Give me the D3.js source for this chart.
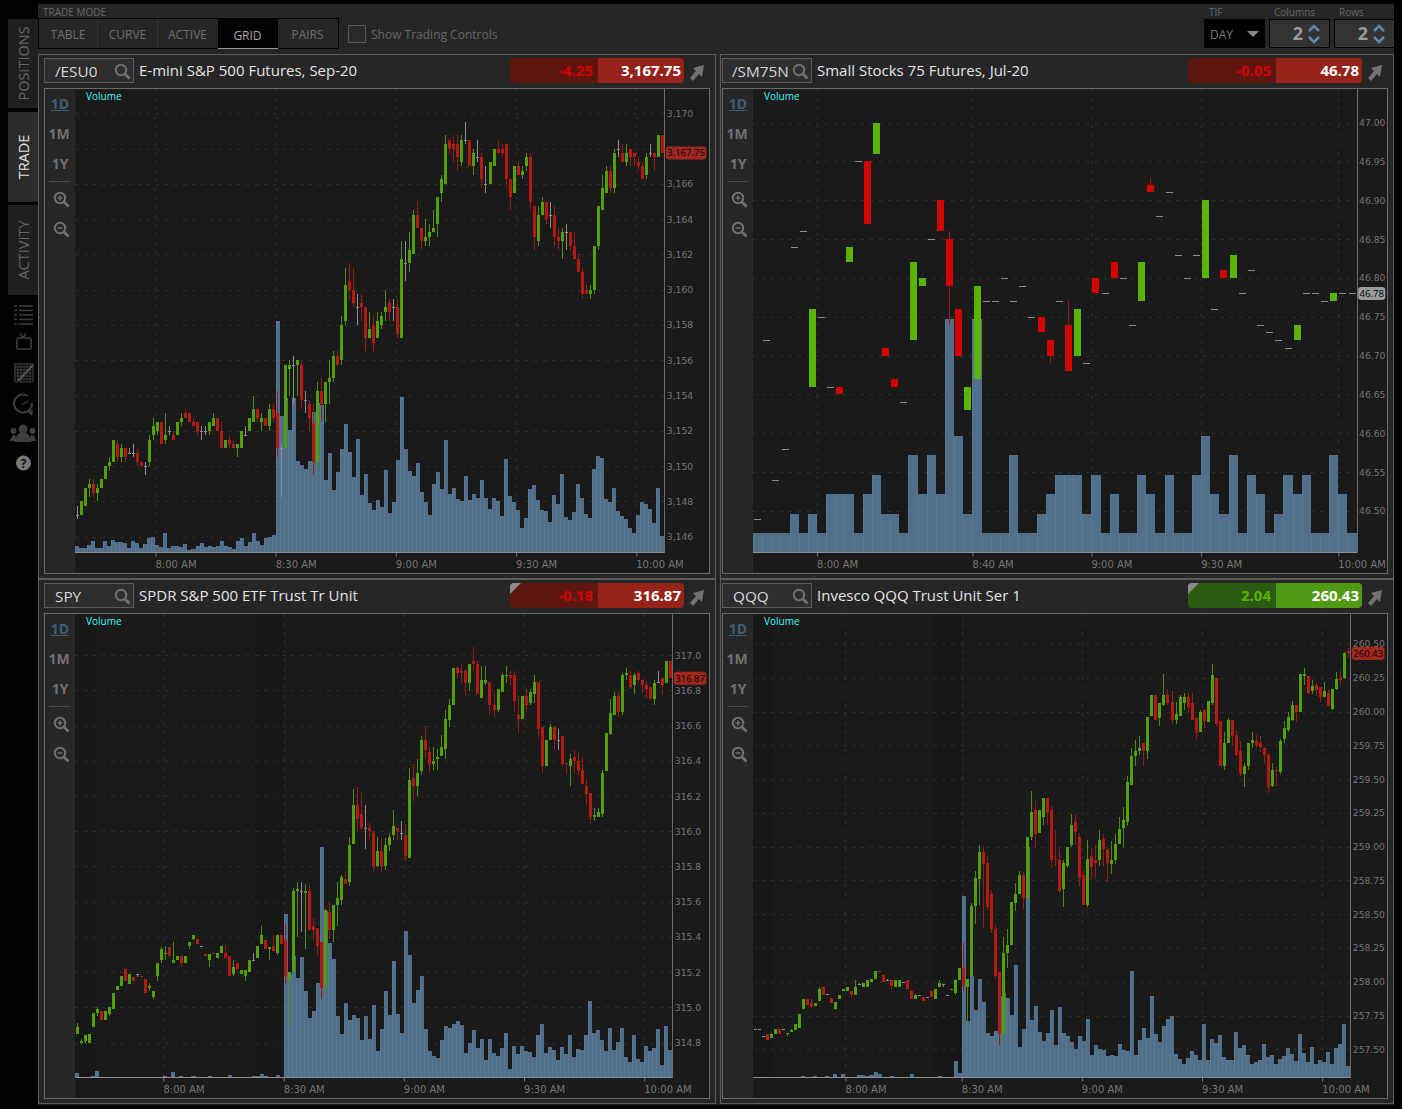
<!DOCTYPE html>
<html>
<head>
<meta charset="utf-8">
<script src="https://d3js.org/d3.v7.min.js"></script>
<style>
  html, body { margin: 0; padding: 0; background: #000; }
  svg { display: block; }
  text { font-family: "Open Sans", sans-serif; }
  .axis text { font-family: "DejaVu Sans", sans-serif; fill: #757575; }
  .axis path { display: none; }
</style>
</head>
<body>
<svg id="chart" width="1402" height="1109"></svg>
<script>
// time axis
var sessionLabels = ["8:00 AM", "8:30 AM", "9:00 AM", "9:30 AM", "10:00 AM"];
var smLabels = ["8:00 AM", "8:40 AM", "9:00 AM", "9:30 AM", "10:00 AM"];
var esuTickBars = [20, 50, 80, 110, 140];
var smTickBars = [7, 24, 37, 49, 64];
var spyTickBars = [22, 52, 82, 112, 142];
var qqqTickBars = [23, 52, 82, 112, 142];

// price axis ticks
var esuPriceTicks = [3146, 3148, 3150, 3152, 3154, 3156, 3158, 3160, 3162, 3164, 3166, 3168, 3170];
var smPriceTicks = [46.5, 46.55, 46.6, 46.65, 46.7, 46.75, 46.8, 46.85, 46.9, 46.95, 47];
var spyPriceTicks = [314.8, 315, 315.2, 315.4, 315.6, 315.8, 316, 316.2, 316.4, 316.6, 316.8, 317];
var qqqPriceTicks = [257.5, 257.75, 258, 258.25, 258.5, 258.75, 259, 259.25, 259.5, 259.75, 260, 260.25, 260.5];

// /ESU0 one minute bars
var esuOpen = [3147.25,3147.25,3147.75,3148.75,3149,3148.5,3148.75,3149.25,3150,3150.25,3151.25,3150.5,3151,3150.75,3150.75,3150.75,3150.25,3150,3150.25,3151.75,3152,3152.5,3151.5,3152,3151.75,3151.75,3152.5,3153,3153,3152.5,3152.5,3152,3152,3152,3152.25,3152.75,3152,3151,3151.5,3151.25,3151,3151,3151.75,3152,3152.5,3153.25,3152.5,3152.75,3152.25,3153.25,3153,3151,3151,3155.5,3155.75,3155.75,3155.75,3153.75,3153.5,3152.5,3150.25,3154.25,3153.5,3154.75,3155,3156.25,3156,3158.25,3160.5,3160,3159,3159.25,3159,3157.25,3158,3157.25,3158,3158.75,3159.25,3159,3159,3157.25,3161.5,3161.5,3162,3164.25,3163.5,3162.75,3163,3163.25,3163.75,3165.5,3166,3168.5,3168.25,3168.25,3167.25,3168.5,3168.5,3167,3167.5,3167.5,3166,3166,3167,3168,3168,3168.25,3166.25,3165.5,3167,3166.5,3167,3167.5,3164.75,3162.75,3164.25,3165,3164.25,3164.25,3163,3162.75,3163.25,3163.25,3162.5,3161.75,3161,3160,3159.75,3160,3162.5,3164.5,3165.5,3166.75,3165.75,3168,3167.75,3167.25,3168,3167.75,3167.25,3167,3166.5,3167.75,3167.75,3167.5,3168.75];
var esuHigh = [3147.75,3148,3148.75,3149.25,3149.25,3149,3149.25,3150,3150.5,3151.5,3151.5,3151.25,3151,3151,3151.25,3151,3150.25,3150.25,3151.75,3152.75,3152.5,3152.5,3153,3152.25,3152,3152.5,3153,3153.25,3153,3152.75,3152.5,3152.25,3152.25,3152.5,3153,3152.75,3152.5,3151.5,3151.75,3151.5,3151.25,3152,3152.25,3152.75,3154,3153.25,3153,3152.75,3153.5,3153.5,3154.25,3151.25,3155.75,3156,3156.25,3156,3156,3154.25,3153.75,3153.5,3154.75,3155,3154.75,3156,3156.5,3156.5,3158.5,3161.25,3161.5,3161.25,3159.75,3159.75,3159,3158.75,3158.5,3158.75,3158.75,3160,3159.5,3159.5,3159.5,3162.75,3162.75,3163.25,3164.5,3165,3163.5,3164,3163.75,3164.5,3165.25,3166.5,3168.75,3168.5,3168.75,3168.75,3168.75,3169.5,3168.5,3168,3168.5,3167.75,3167,3167.25,3168,3168.5,3168.25,3168.25,3166.25,3167,3167.25,3167,3167.75,3167.75,3164.75,3164.75,3165.25,3165,3165,3164.75,3163.5,3163.5,3163.75,3163.25,3163.25,3162,3161.25,3160.25,3160.25,3162.5,3164.75,3166.5,3167,3167,3168,3168.5,3168.25,3168.25,3168,3167.75,3167.5,3167.25,3167.75,3168.25,3167.75,3168.75,3168.75];
var esuLow = [3147,3147.25,3147.75,3148.25,3148.25,3148,3148.75,3149.25,3149.75,3150.25,3150.25,3150.25,3150.25,3150.75,3150.5,3150,3150,3149.5,3150,3151.5,3151.75,3151.25,3151.25,3151.75,3151.5,3151.75,3152.25,3152.75,3152.5,3152.25,3151.75,3151.5,3151.75,3151.75,3152.25,3152,3151,3151,3151,3151,3150.5,3151,3151.75,3152,3152.5,3152.5,3152,3152.25,3152,3152.5,3150.5,3148.25,3151,3154,3153.5,3154,3153.25,3153,3152,3149.5,3149.75,3152.5,3152.5,3153.5,3154.75,3155.75,3155.75,3158,3159.5,3159,3158,3158.25,3156.5,3157.25,3156.5,3157.25,3157.75,3158.25,3158.25,3158.25,3157.25,3157.25,3160.5,3161,3162,3163.5,3162.25,3162.5,3162.5,3163.25,3163,3165,3166,3167.75,3167.25,3166.75,3167,3168.25,3167,3166.5,3167.25,3165.75,3165.5,3166,3167,3167.75,3167.5,3165.75,3164.5,3165.5,3166.5,3166.25,3166.75,3164.5,3162.25,3162.5,3164.25,3163.75,3163.5,3162.5,3162.25,3161.75,3162.25,3162.25,3161.75,3161,3159.5,3159.75,3159.5,3159.75,3162.25,3164.5,3165.5,3165.5,3165.5,3167.5,3167.25,3167,3167,3167,3166.75,3166.25,3166.25,3167.5,3166.75,3167.5,3167.75];
var esuClose = [3147.25,3148,3148.75,3149,3148.5,3148.75,3149.25,3150,3150.25,3151.5,3150.5,3151,3150.5,3150.75,3150.75,3150.25,3150,3150,3151.5,3152.25,3152.5,3151.25,3151.75,3152,3151.5,3152.5,3152.75,3152.75,3152.5,3152.25,3152,3152,3152,3152.5,3152.75,3152,3151,3151.5,3151.25,3151,3151.25,3152,3151.75,3152.75,3153.25,3152.75,3152.75,3152.25,3153.25,3152.75,3151,3151,3155.75,3155.75,3155.75,3156,3153.75,3153.75,3152.75,3150.25,3154.25,3153.5,3154.75,3155,3156.25,3155.75,3158,3160.25,3160,3159.25,3159,3159,3157.25,3157.75,3157,3158.25,3158.5,3159,3158.75,3159,3157.5,3161.75,3161.5,3162.25,3164.25,3163.5,3162.75,3163,3163.25,3163.5,3165.25,3166.25,3168.25,3168,3168,3167.5,3168.5,3168.5,3167,3167.75,3167.5,3166.25,3166,3167.25,3168,3167.75,3167.75,3166.25,3165.25,3167,3166.5,3166.75,3167.5,3165,3163,3164.25,3165,3164,3164.25,3163,3162.75,3163.25,3163.25,3162.5,3161.75,3161,3159.75,3159.75,3160,3162.5,3164.75,3165.75,3166.75,3165.75,3167.75,3168,3167.25,3167.75,3167.5,3167.5,3167,3166.25,3167.5,3167.75,3167.5,3168.75,3167.75];
var esuVolume = [19,13,13,22,34,13,13,34,19,37,31,31,28,13,34,28,13,25,43,46,22,16,58,13,19,19,16,25,7,10,19,28,16,19,16,19,34,19,16,10,34,43,19,31,58,34,22,43,46,52,694,409,463,367,463,274,262,250,274,421,448,442,217,298,187,241,310,385,301,226,340,172,235,148,127,157,136,249,120,153,279,468,312,246,231,270,183,153,114,207,243,192,339,177,195,162,156,231,159,177,165,219,165,132,165,156,111,282,171,153,129,75,105,192,204,159,129,126,93,174,147,237,108,99,123,207,165,117,105,252,291,285,162,153,195,126,111,102,75,60,114,153,147,132,90,195,51];

// /SM75N bars, thin market so many flat prints
var smOpen = [46.49,46.72,46.54,46.58,46.84,46.86,46.66,46.75,46.66,46.66,46.82,46.95,46.95,46.96,46.71,46.67,46.64,46.72,46.79,46.85,46.90,46.85,46.76,46.63,46.67,46.77,46.77,46.80,46.77,46.79,46.75,46.75,46.72,46.77,46.74,46.70,46.69,46.80,46.78,46.82,46.80,46.74,46.77,46.92,46.88,46.91,46.83,46.80,46.83,46.80,46.76,46.81,46.80,46.78,46.81,46.74,46.73,46.72,46.71,46.72,46.78,46.78,46.77,46.77,46.78,46.78];
var smHigh = [46.49,46.72,46.54,46.58,46.84,46.86,46.76,46.75,46.66,46.66,46.84,46.95,46.95,47,46.71,46.67,46.64,46.82,46.80,46.85,46.90,46.86,46.76,46.66,46.79,46.77,46.77,46.80,46.77,46.79,46.75,46.75,46.72,46.77,46.77,46.76,46.69,46.80,46.78,46.82,46.80,46.74,46.82,46.93,46.88,46.91,46.83,46.80,46.83,46.90,46.76,46.81,46.83,46.78,46.81,46.74,46.73,46.72,46.71,46.74,46.78,46.78,46.77,46.78,46.78,46.78];
var smLow = [46.49,46.72,46.54,46.58,46.84,46.86,46.66,46.75,46.66,46.65,46.82,46.95,46.87,46.96,46.70,46.66,46.64,46.72,46.79,46.85,46.86,46.74,46.70,46.63,46.67,46.77,46.77,46.80,46.77,46.79,46.75,46.73,46.69,46.77,46.68,46.70,46.69,46.78,46.78,46.80,46.80,46.74,46.77,46.91,46.88,46.91,46.83,46.80,46.83,46.80,46.76,46.80,46.80,46.78,46.81,46.74,46.73,46.72,46.71,46.72,46.78,46.78,46.77,46.77,46.78,46.78];
var smClose = [46.49,46.72,46.54,46.58,46.84,46.86,46.76,46.75,46.66,46.65,46.84,46.95,46.87,47,46.70,46.66,46.64,46.82,46.80,46.85,46.86,46.79,46.70,46.66,46.79,46.77,46.77,46.80,46.77,46.79,46.75,46.73,46.70,46.77,46.68,46.76,46.69,46.78,46.78,46.80,46.80,46.74,46.82,46.91,46.88,46.91,46.83,46.80,46.83,46.90,46.76,46.80,46.83,46.78,46.81,46.74,46.73,46.72,46.71,46.74,46.78,46.78,46.77,46.78,46.78,46.78];
var smVolume = [1,1,1,1,2,1,2,1,3,3,3,1,3,4,2,2,1,5,3,5,3,12,6,2,12,1,1,1,5,1,1,2,3,4,4,4,2,4,1,3,1,1,4,3,1,4,1,1,4,6,3,2,5,1,4,3,1,2,4,3,4,1,1,5,3,1];

// SPY one minute bars
var spyOpen = [314.85,314.80,314.81,314.80,314.89,314.97,314.98,314.93,314.96,314.99,315.10,315.12,315.22,315.13,315.17,315.19,315.18,315.16,315.11,315.06,315.18,315.27,315.30,315.34,315.25,315.27,315.29,315.25,315.35,315.39,315.39,315.35,315.30,315.27,315.31,315.28,315.31,315.31,315.29,315.19,315.25,315.19,315.18,315.20,315.27,315.28,315.36,315.38,315.33,315.35,315.31,315.41,315.38,315.16,315.20,315.66,315.66,315.65,315.66,315.46,315.45,315.37,315.12,315.54,315.44,315.58,315.61,315.73,315.71,315.93,316.15,316.10,316.02,316.02,315.99,315.80,315.89,315.80,315.92,315.98,316.02,315.99,315.98,315.85,316.30,316.26,316.34,316.52,316.45,316.38,316.41,316.43,316.47,316.63,316.72,316.93,316.91,316.91,316.84,316.97,316.95,316.76,316.84,316.85,316.72,316.69,316.79,316.88,316.89,316.89,316.66,316.64,316.77,316.73,316.78,316.85,316.59,316.37,316.52,316.59,316.52,316.54,316.39,316.37,316.42,316.40,316.35,316.26,316.22,316.08,316.08,316.10,316.34,316.55,316.66,316.77,316.68,316.89,316.89,316.83,316.90,316.86,316.83,316.82,316.75,316.85,316.87,316.84,316.97];
var spyHigh = [314.91,314.82,314.84,314.85,314.97,315.00,314.98,314.98,315.00,315.08,315.12,315.18,315.22,315.19,315.17,315.19,315.18,315.16,315.14,315.09,315.25,315.34,315.35,315.34,315.37,315.29,315.29,315.29,315.37,315.41,315.39,315.35,315.30,315.30,315.31,315.31,315.35,315.35,315.29,315.27,315.25,315.21,315.21,315.27,315.31,315.35,315.46,315.38,315.34,315.41,315.41,315.41,315.48,315.20,315.68,315.71,315.71,315.70,315.70,315.51,315.45,315.37,315.56,315.59,315.58,315.71,315.75,315.77,315.97,316.24,316.25,316.21,316.15,316.05,316.00,315.97,315.96,315.96,315.99,316.12,316.02,316.06,316.04,316.36,316.38,316.41,316.54,316.60,316.48,316.48,316.47,316.55,316.69,316.75,316.93,316.94,316.95,316.92,316.95,317.05,316.97,316.94,316.94,316.85,316.78,316.81,316.90,316.94,316.91,316.91,316.77,316.77,316.81,316.81,316.89,316.85,316.59,316.52,316.61,316.59,316.58,316.54,316.39,316.44,316.46,316.45,316.42,316.30,316.22,316.13,316.13,316.35,316.56,316.75,316.79,316.79,316.90,316.93,316.91,316.90,316.91,316.86,316.85,316.82,316.86,316.91,316.87,316.97,316.97];
var spyLow = [314.85,314.79,314.80,314.80,314.89,314.95,314.93,314.93,314.95,314.99,315.10,315.12,315.15,315.13,315.15,315.17,315.17,315.08,315.09,315.05,315.15,315.25,315.27,315.29,315.25,315.27,315.23,315.25,315.33,315.38,315.36,315.35,315.29,315.23,315.30,315.28,315.31,315.28,315.18,315.18,315.22,315.19,315.15,315.20,315.27,315.28,315.36,315.33,315.27,315.32,315.30,315.36,315.13,314.90,315.20,315.40,315.43,315.33,315.44,315.38,315.29,315.05,315.08,315.39,315.37,315.46,315.58,315.70,315.69,315.93,316.00,316.00,315.90,315.96,315.77,315.80,315.77,315.78,315.89,315.95,315.95,315.95,315.83,315.85,316.17,316.20,316.32,316.41,316.33,316.35,316.35,316.43,316.41,316.59,316.72,316.87,316.84,316.77,316.80,316.92,316.78,316.76,316.83,316.66,316.65,316.68,316.79,316.84,316.83,316.68,316.56,316.64,316.68,316.72,316.73,316.53,316.33,316.37,316.52,316.46,316.46,316.37,316.32,316.26,316.33,316.32,316.27,316.15,316.05,316.06,316.08,316.08,316.34,316.55,316.66,316.65,316.66,316.86,316.81,316.78,316.85,316.78,316.75,316.75,316.72,316.85,316.78,316.84,316.87];
var spyClose = [314.89,314.81,314.84,314.85,314.97,314.99,314.93,314.98,315.00,315.08,315.12,315.18,315.15,315.19,315.15,315.19,315.17,315.08,315.12,315.09,315.25,315.33,315.31,315.29,315.27,315.29,315.25,315.29,315.37,315.41,315.36,315.35,315.29,315.30,315.30,315.31,315.35,315.28,315.18,315.23,315.22,315.21,315.21,315.27,315.27,315.35,315.41,315.33,315.34,315.32,315.41,315.36,315.17,315.20,315.66,315.67,315.66,315.66,315.44,315.44,315.35,315.11,315.55,315.44,315.58,315.62,315.74,315.70,315.92,316.15,316.07,316.02,316.02,316.00,315.80,315.89,315.80,315.92,315.97,316.03,316.00,315.99,315.86,316.29,316.26,316.33,316.52,316.46,316.38,316.40,316.42,316.48,316.64,316.72,316.93,316.90,316.90,316.84,316.95,316.95,316.78,316.86,316.86,316.72,316.69,316.81,316.89,316.89,316.87,316.74,316.64,316.77,316.72,316.79,316.85,316.58,316.37,316.52,316.59,316.52,316.52,316.38,316.38,316.41,316.40,316.34,316.27,316.21,316.08,316.09,316.11,316.33,316.56,316.67,316.77,316.68,316.89,316.90,316.82,316.89,316.86,316.83,316.81,316.75,316.84,316.85,316.83,316.97,316.87];
var spyVolume = [15,3,3,1,6,21,1,3,3,1,3,3,3,1,1,1,3,3,1,1,1,3,6,1,18,3,6,3,3,6,1,1,3,6,1,1,3,3,9,3,3,1,3,3,6,6,12,6,3,3,9,3,492,312,366,300,363,261,180,201,285,693,501,405,357,186,132,225,174,189,180,114,186,117,219,81,145,259,187,349,190,133,439,367,223,262,304,145,79,64,58,112,154,148,162,169,157,73,103,142,88,115,52,115,73,64,88,133,25,94,70,94,79,76,61,127,160,73,91,82,52,91,70,127,61,85,82,127,229,133,142,112,79,148,82,106,148,61,46,127,55,46,94,79,88,145,37,154,82];

// QQQ one minute bars
var qqqOpen = [257.65,257.65,257.60,257.61,257.58,257.61,257.65,257.65,257.61,257.63,257.64,257.66,257.80,257.87,257.84,257.82,257.86,257.96,257.91,257.88,257.80,257.87,257.93,257.93,257.93,257.90,257.98,257.96,257.96,258.00,258.02,258.08,258.05,258.01,258.01,257.96,257.96,258.00,258.01,257.93,257.87,257.90,257.89,257.89,257.93,257.87,257.96,257.98,257.90,257.94,257.92,258.01,258.11,257.96,258.04,258.56,258.76,258.96,258.88,258.65,258.39,258.07,257.62,258.21,258.27,258.58,258.65,258.79,258.62,259.07,259.27,259.10,259.22,259.36,259.27,258.91,258.90,258.69,258.86,259.01,259.18,259.07,258.79,258.57,258.93,258.90,258.90,259.06,258.98,258.87,258.90,259.02,259.14,259.18,259.46,259.67,259.71,259.77,259.71,259.97,260.12,259.95,260.05,260.12,260.07,259.94,259.97,260.06,260.11,260.06,259.95,259.85,260.01,259.92,260.06,260.25,259.93,259.60,259.77,259.94,259.83,259.71,259.54,259.60,259.77,259.78,259.77,259.73,259.68,259.45,259.57,259.55,259.80,259.86,259.94,260.05,260,260.26,260.26,260.15,260.20,260.18,260.11,260.14,260.02,260.17,260.25,260.25,260.45];
var qqqHigh = [257.65,257.65,257.60,257.61,257.62,257.65,257.65,257.65,257.62,257.65,257.69,257.76,257.87,257.87,257.87,257.84,257.96,257.96,257.91,257.88,257.85,257.90,257.95,257.96,257.93,258.01,257.99,257.99,258.01,258.02,258.08,258.08,258.05,258.02,258.01,258.01,258.01,258.00,258.01,257.93,257.91,257.90,257.89,257.89,257.93,257.95,258.01,257.98,257.90,257.95,258.02,258.10,258.29,258.02,258.58,258.82,259.01,259.00,258.93,258.68,258.42,258.07,258.33,258.39,258.59,258.73,258.82,258.81,259.07,259.41,259.33,259.27,259.36,259.36,259.30,259.12,258.98,258.90,259.00,259.24,259.24,259.10,258.83,259.05,258.99,259.01,259.12,259.09,258.98,259.04,259.09,259.22,259.29,259.52,259.73,259.79,259.82,259.77,259.96,260.12,260.12,260.06,260.28,260.17,260.15,260.07,260.12,260.14,260.14,260.14,259.95,260.01,260.02,260.08,260.35,260.25,259.93,259.85,259.95,259.94,259.86,259.78,259.62,259.77,259.85,259.83,259.82,259.74,259.69,259.62,259.59,259.80,259.93,260,260.08,260.05,260.28,260.32,260.26,260.23,260.22,260.18,260.22,260.17,260.17,260.29,260.30,260.44,260.47];
var qqqLow = [257.65,257.65,257.60,257.57,257.58,257.61,257.61,257.65,257.60,257.63,257.64,257.66,257.80,257.83,257.81,257.82,257.86,257.90,257.91,257.84,257.79,257.87,257.93,257.93,257.89,257.90,257.98,257.96,257.96,258.00,258.02,258.07,258.00,258.01,257.94,257.96,257.96,258.00,257.95,257.87,257.87,257.90,257.86,257.89,257.89,257.87,257.96,257.96,257.90,257.94,257.90,258.01,257.93,257.68,258.04,258.43,258.57,258.40,258.53,258.36,258.03,257.53,257.58,258.10,258.27,258.52,258.65,258.54,258.62,259.05,259.00,259.10,259.16,259.16,258.84,258.86,258.66,258.55,258.84,259.00,259.02,258.71,258.57,258.55,258.77,258.77,258.86,258.86,258.74,258.80,258.87,259.02,259.00,259.15,259.46,259.60,259.68,259.60,259.65,259.97,259.94,259.89,260.04,260.05,259.91,259.91,259.97,260.01,260.00,259.94,259.80,259.85,259.88,259.92,260.05,259.89,259.60,259.57,259.77,259.75,259.67,259.52,259.44,259.57,259.73,259.73,259.70,259.61,259.40,259.44,259.45,259.54,259.77,259.85,259.93,259.92,260,260.20,260.13,260.13,260.12,260.07,260.11,260.04,260.01,260.16,260.20,260.24,260.40];
var qqqClose = [257.65,257.65,257.60,257.57,257.61,257.65,257.61,257.65,257.62,257.64,257.69,257.76,257.87,257.83,257.81,257.84,257.95,257.90,257.91,257.84,257.85,257.90,257.95,257.96,257.90,257.96,257.98,257.99,258.01,258.02,258.08,258.07,258.00,258.01,257.97,258.01,258.01,258.00,257.95,257.87,257.90,257.90,257.86,257.89,257.89,257.95,257.99,257.98,257.90,257.95,258.01,258.10,257.97,258.02,258.56,258.77,258.96,258.87,258.55,258.39,258.04,257.61,258.21,258.27,258.59,258.65,258.79,258.62,259.07,259.26,259.09,259.27,259.36,259.25,258.90,258.90,258.67,258.88,259.00,259.16,259.11,258.77,258.57,258.91,258.85,258.88,259.05,258.98,258.88,258.90,259.02,259.13,259.20,259.48,259.67,259.71,259.73,259.71,259.96,260.12,259.94,260.06,260.12,260.06,259.94,259.98,260.11,260.11,260.03,259.94,259.84,260,259.93,260.08,260.27,259.91,259.60,259.77,259.94,259.82,259.68,259.54,259.60,259.77,259.79,259.75,259.74,259.68,259.44,259.57,259.56,259.78,259.88,259.96,260.05,260,260.28,260.28,260.14,260.19,260.16,260.11,260.15,260.04,260.17,260.24,260.23,260.43,260.43];
var qqqVolume = [1,1,1,3,1,1,1,1,1,1,3,3,6,3,3,6,1,3,6,3,12,3,12,1,3,1,9,9,6,9,18,12,3,1,6,1,3,3,3,12,3,1,1,1,1,3,6,1,1,3,51,15,546,171,306,204,297,228,135,126,141,246,255,240,189,339,93,147,693,174,216,138,111,135,204,99,213,135,126,108,87,126,111,177,69,99,87,84,66,69,66,102,84,81,321,69,114,150,120,246,132,108,156,177,186,72,57,42,60,81,69,54,162,54,117,105,129,63,54,54,138,90,99,69,42,48,54,102,63,69,42,57,66,90,72,51,132,75,48,93,42,54,48,78,42,90,102,162,36];

var svg = d3.select("#chart");
var COL_GREEN = "#529f00", COL_RED = "#b31a10", COL_GRAY = "#8c8c8c";
var WICK_GREEN = "#4c8a08", WICK_RED = "#8f1f17";

// frame of the whole window
svg.append("rect").attr("x", 38).attr("y", 4).attr("width", 1356).attr("height", 1101).attr("fill", "#262626");

function sideTab(label, y0, y1, fill, color) {
  svg.append("rect").attr("x", 8).attr("y", y0).attr("width", 30).attr("height", y1 - y0).attr("fill", fill);
  svg.append("text").attr("transform", "translate(29," + (y0 + y1) / 2 + ") rotate(-90)")
    .attr("text-anchor", "middle").attr("font-size", 14.5).attr("fill", color).text(label);
}
sideTab("POSITIONS", 19, 108, "#1f1f1f", "#666");
sideTab("TRADE", 112, 202, "#2b2b2b", "#e0e0e0");
sideTab("ACTIVITY", 205, 295, "#1f1f1f", "#666");

// top toolbar
svg.append("text").attr("x", 43).attr("y", 16).attr("font-size", 10).attr("fill", "#666").text("TRADE MODE");
svg.append("rect").attr("x", 38.5).attr("y", 18.5).attr("width", 300).attr("height", 30).attr("fill", "#262626").attr("stroke", "#000");
var modes = ["TABLE", "CURVE", "ACTIVE", "GRID", "PAIRS"];
var modeEdges = [39, 98, 158, 218, 278, 338];
modes.forEach(function(m, i) {
  var active = m === "GRID";
  if (active) {
    svg.append("rect").attr("x", modeEdges[i]).attr("y", 19).attr("width", modeEdges[i + 1] - modeEdges[i]).attr("height", 29).attr("fill", "#000");
    svg.append("line").attr("x1", modeEdges[i]).attr("x2", modeEdges[i + 1]).attr("y1", 48.5).attr("y2", 48.5).attr("stroke", "#999");
  } else if (i > 0 && i < 3) {
    svg.append("line").attr("x1", modeEdges[i] - 0.5).attr("x2", modeEdges[i] - 0.5).attr("y1", 19).attr("y2", 48).attr("stroke", "#333");
  }
  svg.append("text").attr("x", (modeEdges[i] + modeEdges[i + 1]) / 2 - 0.5).attr("y", active ? 40 : 39)
    .attr("text-anchor", "middle").attr("font-size", 12).attr("fill", active ? "#a8a8a8" : "#6e6e6e").text(m);
});
svg.append("rect").attr("x", 348.5).attr("y", 25.5).attr("width", 17).attr("height", 17).attr("fill", "#2a2a2a").attr("stroke", "#5a5a5a");
svg.append("text").attr("x", 371).attr("y", 39).attr("font-size", 12).attr("fill", "#666").text("Show Trading Controls");

svg.append("text").attr("x", 1209).attr("y", 16).attr("font-size", 10).attr("fill", "#666").text("TIF");
svg.append("text").attr("x", 1274).attr("y", 16).attr("font-size", 10).attr("fill", "#666").text("Columns");
svg.append("text").attr("x", 1339).attr("y", 16).attr("font-size", 10).attr("fill", "#666").text("Rows");
svg.append("rect").attr("x", 1204).attr("y", 19).attr("width", 61).attr("height", 29).attr("fill", "#000");
svg.append("text").attr("x", 1210).attr("y", 39).attr("font-size", 12).attr("fill", "#777").text("DAY");
svg.append("path").attr("d", "M1247 31h12l-6 6z").attr("fill", "#8a8a8a");

function spinner(x0, value) {
  svg.append("rect").attr("x", x0 + 0.5).attr("y", 19.5).attr("width", 60).attr("height", 28).attr("fill", "#333").attr("stroke", "#000");
  svg.append("text").attr("x", x0 + 29).attr("y", 40).attr("text-anchor", "middle").attr("font-size", 18).attr("font-weight", 700).attr("fill", "#9a9a9a").text(value);
  svg.append("path").attr("d", "M" + (x0 + 40) + " 31l5 -5 5 5 M" + (x0 + 40) + " 37l5 5 5 -5")
    .attr("fill", "none").attr("stroke", "#5f87a8").attr("stroke-width", 2.6);
}
spinner(1269, "2");
spinner(1334, "2");

// left rail icons
var rail = svg.append("g").attr("fill", "none").attr("stroke", "#3e3e3e").attr("stroke-width", 1.5);
d3.range(5).forEach(function(i) {
  rail.append("line").attr("x1", 14).attr("x2", 17).attr("y1", 306 + i * 4.5).attr("y2", 306 + i * 4.5);
  rail.append("line").attr("x1", 19).attr("x2", 33).attr("y1", 306 + i * 4.5).attr("y2", 306 + i * 4.5);
});
rail.append("rect").attr("x", 17).attr("y", 338).attr("width", 14).attr("height", 11).attr("rx", 1);
rail.append("path").attr("d", "M20 333l3 5 3 -5");
d3.range(7).forEach(function(i) {
  rail.append("line").attr("x1", 14).attr("x2", 33).attr("y1", 364 + i * 3).attr("y2", 364 + i * 3).attr("stroke-width", 1);
  rail.append("line").attr("x1", 15 + i * 3).attr("x2", 15 + i * 3).attr("y1", 363).attr("y2", 382).attr("stroke-width", 1);
});
rail.append("path").attr("d", "M18 381L33 365").attr("stroke", "#555").attr("stroke-width", 2);
rail.append("path").attr("d", "M28 396a9 9 0 1 0 4 7").attr("stroke-width", 2);
rail.append("path").attr("d", "M22 405l6 -4");
svg.append("path").attr("fill", "#3e3e3e").attr("d", "M27 411l6 -1 -1 6z");
var people = svg.append("g").attr("fill", "#3e3e3e");
people.append("circle").attr("cx", 13.5).attr("cy", 431).attr("r", 3);
people.append("circle").attr("cx", 32.5).attr("cy", 431).attr("r", 3);
people.append("path").attr("d", "M9 441l4 -6h2l2 6z M37 441l-4 -6h-2l-2 6z");
people.append("circle").attr("cx", 23).attr("cy", 429).attr("r", 4.5);
people.append("path").attr("d", "M14.5 442l2.5 -7 3 -2h6l3 2 2.5 7z");
svg.append("circle").attr("cx", 23.5).attr("cy", 463).attr("r", 7.5).attr("fill", "#777");
svg.append("text").attr("x", 23.5).attr("y", 467.5).attr("text-anchor", "middle").attr("font-size", 12).attr("font-weight", 700).attr("fill", "#111").text("?");

function searchIcon(g, x, y, color, sign) {
  g.append("circle").attr("cx", x).attr("cy", y).attr("r", 5.2).attr("fill", "none").attr("stroke", color).attr("stroke-width", 2);
  g.append("line").attr("x1", x + 3.5).attr("y1", y + 3.5).attr("x2", x + 8.5).attr("y2", y + 8.5).attr("stroke", color).attr("stroke-width", 2.8);
  if (sign) {
    g.append("line").attr("x1", x - 2.5).attr("x2", x + 2.5).attr("y1", y).attr("y2", y).attr("stroke", color).attr("stroke-width", 1.5);
    if (sign === "+") g.append("line").attr("x1", x).attr("x2", x).attr("y1", y - 2.5).attr("y2", y + 2.5).attr("stroke", color).attr("stroke-width", 1.5);
  }
}

// one grid cell: header, frame, axes, volume and candles
function drawPanel(p) {
  var n = p.open.length;
  var g = svg.append("g");
  var left = p.frameLeft;

  g.append("rect").attr("x", p.panelLeft + 0.5).attr("y", p.panelTop + 0.5).attr("width", p.panelWidth).attr("height", 524)
    .attr("fill", "#262626").attr("stroke", "#5c5c5c");

  // header
  g.append("rect").attr("x", left + 0.5).attr("y", p.panelTop + 4.5).attr("width", 89).attr("height", 24).attr("fill", "#2e2e2e").attr("stroke", "#5c5c5c");
  searchIcon(g, left + 77, p.panelTop + 16, "#707070");
  g.append("text").attr("x", left + p.symbolDx).attr("y", p.panelTop + 22.5).attr("font-size", 15.3).attr("fill", "#d6d6d6").text(p.symbol);
  g.append("text").attr("x", left + 95).attr("y", p.panelTop + 22).attr("font-size", 15).attr("fill", "#e4e4e4").text(p.title);

  // price box
  var bx = left + 466;
  g.append("path").attr("fill", p.boxDark).attr("d", "M" + (bx + 88) + " " + (p.panelTop + 4) + "h-84a4 4 0 0 0 -4 4v17a4 4 0 0 0 4 4h84z");
  g.append("path").attr("fill", p.boxLight).attr("d", "M" + (bx + 88) + " " + (p.panelTop + 4) + "h82a4 4 0 0 1 4 4v17a4 4 0 0 1 -4 4h-82z");
  if (p.corner) g.append("path").attr("fill", "#8a8a8a").attr("d", "M" + bx + " " + (p.panelTop + 15) + "v-7a4 4 0 0 1 4 -4h7z");
  g.append("text").attr("x", bx + 83).attr("y", p.panelTop + 22).attr("text-anchor", "end").attr("font-size", 15).attr("font-weight", 700).attr("fill", p.changeColor).text(p.change);
  g.append("text").attr("x", bx + 171).attr("y", p.panelTop + 22).attr("text-anchor", "end").attr("font-size", 15).attr("font-weight", 700).attr("fill", "#fff").text(p.last);
  g.append("path").attr("fill", "#727272").attr("d", "M" + (bx + 180) + " " + (p.panelTop + 24) + "l6 -7 -3 -3 11 -3 -2 12 -3 -3 -6 7z");

  // chart frame
  g.append("rect").attr("x", left + 0.5).attr("y", p.panelTop + 34.5).attr("width", 665).attr("height", 485).attr("fill", "#1a1a1a").attr("stroke", "#6a6a6a");
  g.append("rect").attr("x", left + 1).attr("y", p.panelTop + 35).attr("width", p.plotLeft - left - 1).attr("height", 484).attr("fill", "#272727");

  var top = p.panelTop + 35, bottom = p.panelTop + 498.5;
  var x = d3.scaleLinear().domain([0, n]).range([p.plotLeft, p.plotRight]);
  var y = d3.scaleLinear().domain(p.priceDomain).range(p.priceRange);
  var v = d3.scaleLinear().domain(p.volumeDomain).range([bottom, bottom - 233.3]);
  var step = x(1) - x(0);

  // darker pre market stretches
  (p.shade || []).forEach(function(s) {
    g.append("rect").attr("x", x(s[0])).attr("y", top).attr("width", x(s[1]) - x(s[0])).attr("height", bottom - top).attr("fill", "#181818");
  });

  // grid
  g.selectAll(".hgrid").data(p.priceTicks).enter().append("line")
    .attr("x1", p.plotLeft).attr("x2", p.plotRight)
    .attr("y1", function(d) { return Math.round(y(d)) + 0.5; }).attr("y2", function(d) { return Math.round(y(d)) + 0.5; })
    .attr("stroke", "#2f2f2f").attr("stroke-dasharray", "3,6");
  g.selectAll(".vgrid").data(p.tickBars).enter().append("line")
    .attr("y1", top).attr("y2", bottom)
    .attr("x1", function(d) { return Math.round(x(d)) + 0.5; }).attr("x2", function(d) { return Math.round(x(d)) + 0.5; })
    .attr("stroke", "#2f2f2f").attr("stroke-dasharray", "3,6");

  // volume histogram
  g.append("g").attr("shape-rendering", "crispEdges").selectAll("rect").data(p.volume).enter().append("rect")
    .attr("x", function(d, i) { return Math.round(x(i)); })
    .attr("width", function(d, i) { return Math.round(x(i + 1)) - Math.round(x(i)); })
    .attr("y", function(d) { return v(d); })
    .attr("height", function(d) { return bottom - v(d); })
    .attr("fill", "#516f8a");
  g.append("g").attr("shape-rendering", "crispEdges").selectAll("line").data(p.volume).enter().append("line")
    .attr("x1", function(d, i) { return Math.round(x(i)) + 0.5; }).attr("x2", function(d, i) { return Math.round(x(i)) + 0.5; })
    .attr("y1", function(d) { return v(d); }).attr("y2", bottom)
    .attr("stroke", "#597791");

  // candles
  var bodyW = p.bodyWidth;
  var candles = g.append("g").attr("shape-rendering", "crispEdges");
  d3.range(n).forEach(function(i) {
    var xc = Math.floor(x(i) + step / 2) + 0.5;
    var o = p.open[i], c = p.close[i], h = p.high[i], l = p.low[i];
    var flat = o === c;
    var wick = flat ? COL_GRAY : (c > o ? WICK_GREEN : WICK_RED);
    if (h !== l && (h > Math.max(o, c) || l < Math.min(o, c))) {
      candles.append("line").attr("x1", xc).attr("x2", xc).attr("y1", y(h)).attr("y2", y(l)).attr("stroke", wick);
    }
    if (flat) {
      candles.append("line").attr("x1", xc - bodyW / 2).attr("x2", xc + bodyW / 2)
        .attr("y1", Math.round(y(c)) + 0.5).attr("y2", Math.round(y(c)) + 0.5).attr("stroke", COL_GRAY);
    } else {
      var t = Math.round(y(Math.max(o, c))), b = Math.round(y(Math.min(o, c)));
      candles.append("rect").attr("x", xc - bodyW / 2).attr("width", bodyW)
        .attr("y", t).attr("height", Math.max(1, b - t))
        .attr("fill", c > o ? p.green : p.red);
    }
  });

  // axes, a tick label that sits under the last price pill stays hidden
  var yAxis = d3.axisRight(y).tickValues(p.priceTicks).tickSize(0).tickPadding(2.5)
    .tickFormat(function(d) { return Math.abs(y(d) - y(p.lastValue)) < 7 ? "" : p.priceFormat(d); });
  g.append("g").attr("class", "axis").attr("transform", "translate(" + p.plotRight + ",0)").call(yAxis)
    .selectAll("text").attr("font-size", 9.2).attr("font-family", "DejaVu Sans");
  var xAxis = d3.axisBottom(x).tickValues(p.tickBars).tickSize(4).tickPadding(4)
    .tickFormat(function(d, i) { return p.timeLabels[i]; });
  var xg = g.append("g").attr("class", "axis").attr("transform", "translate(0," + bottom + ")").call(xAxis);
  xg.selectAll("text").attr("text-anchor", "start").attr("dx", -0.5).attr("font-size", 10).attr("font-family", "DejaVu Sans");
  xg.selectAll("line").attr("stroke", "#777");
  g.append("line").attr("x1", p.plotLeft).attr("x2", p.plotRight + 0.5).attr("y1", bottom).attr("y2", bottom).attr("stroke", "#8e8e8e");
  g.append("line").attr("x1", Math.round(p.plotRight) + 0.5).attr("x2", Math.round(p.plotRight) + 0.5).attr("y1", top).attr("y2", bottom).attr("stroke", "#6a6a6a");

  // last price pill on the axis
  var pill = g.append("g");
  var pillText = pill.append("text").attr("x", p.plotRight + 3).attr("y", y(p.lastValue) + 3.5)
    .attr("font-size", 9.5).attr("font-family", "DejaVu Sans").attr("fill", "#000").text(p.priceLabel);
  var tw = pillText.node().getComputedTextLength();
  pill.insert("rect", "text").attr("x", p.plotRight + 1.5).attr("y", y(p.lastValue) - 6.5).attr("width", tw + 3).attr("height", 13).attr("rx", 3).attr("fill", p.pillColor);

  // left strip controls
  var cx = left + 16;
  g.append("text").attr("x", cx).attr("y", p.panelTop + 55).attr("text-anchor", "middle").attr("font-size", 14).attr("font-weight", 700).attr("fill", "#3f5d78").text("1D");
  g.append("line").attr("x1", cx - 9).attr("x2", cx + 9).attr("y1", p.panelTop + 56.5).attr("y2", p.panelTop + 56.5).attr("stroke", "#3f5d78");
  g.append("text").attr("x", cx - 1).attr("y", p.panelTop + 85).attr("text-anchor", "middle").attr("font-size", 14).attr("font-weight", 700).attr("fill", "#707070").text("1M");
  g.append("text").attr("x", cx).attr("y", p.panelTop + 115).attr("text-anchor", "middle").attr("font-size", 14).attr("font-weight", 700).attr("fill", "#707070").text("1Y");
  g.append("line").attr("x1", left + 5).attr("x2", left + 26).attr("y1", p.panelTop + 127.5).attr("y2", p.panelTop + 127.5).attr("stroke", "#4a4a4a");
  searchIcon(g, cx, p.panelTop + 144, "#707070", "+");
  searchIcon(g, cx, p.panelTop + 174, "#707070", "-");

  g.append("text").attr("x", left + 42).attr("y", p.panelTop + 46).attr("font-size", 10).attr("fill", "#3ff4f4").text("Volume");
}

var fmtThousands = d3.format(",");

drawPanel({
  symbol: "/ESU0", symbolDx: 11, title: "E-mini S&P 500 Futures, Sep-20",
  change: "-4.25", last: "3,167.75", changeColor: "#d40000", boxDark: "#5f1610", boxLight: "#96231a",
  panelLeft: 38, panelTop: 54, panelWidth: 677, frameLeft: 44, plotLeft: 75.3, plotRight: 664.3,
  open: esuOpen, high: esuHigh, low: esuLow, close: esuClose, volume: esuVolume,
  priceTicks: esuPriceTicks, priceDomain: [3146, 3170], priceRange: [536.7, 113.3], priceFormat: fmtThousands,
  volumeDomain: [0, 700], tickBars: esuTickBars, timeLabels: sessionLabels,
  bodyWidth: 3, green: COL_GREEN, red: COL_RED,
  lastValue: 3167.75, priceLabel: "3,167.75", pillColor: "#a0281c"
});

drawPanel({
  symbol: "/SM75N", symbolDx: 10, title: "Small Stocks 75 Futures, Jul-20",
  change: "-0.05", last: "46.78", changeColor: "#d40000", boxDark: "#5f1610", boxLight: "#96231a",
  panelLeft: 720, panelTop: 54, panelWidth: 673, frameLeft: 722, plotLeft: 753, plotRight: 1356.6,
  open: smOpen, high: smHigh, low: smLow, close: smClose, volume: smVolume,
  priceTicks: smPriceTicks, priceDomain: [46.5, 47], priceRange: [511, 122.5], priceFormat: d3.format(".2f"),
  volumeDomain: [0, 12], tickBars: smTickBars, timeLabels: smLabels,
  bodyWidth: 7, green: "#5ab300", red: "#d40000",
  lastValue: 46.78, priceLabel: "46.78", pillColor: "#9a9a9a"
});

drawPanel({
  symbol: "SPY", symbolDx: 11, title: "SPDR S&P 500 ETF Trust Tr Unit",
  change: "-0.18", last: "316.87", changeColor: "#d40000", boxDark: "#5f1610", boxLight: "#96231a", corner: true,
  panelLeft: 38, panelTop: 579, panelWidth: 677, frameLeft: 44, plotLeft: 75.3, plotRight: 672.3,
  open: spyOpen, high: spyHigh, low: spyLow, close: spyClose, volume: spyVolume,
  priceTicks: spyPriceTicks, priceDomain: [314.8, 317], priceRange: [1042.5, 655.3], priceFormat: d3.format(".1f"),
  volumeDomain: [0, 700], tickBars: spyTickBars, timeLabels: sessionLabels,
  bodyWidth: 3, green: COL_GREEN, red: COL_RED, shade: [[0, 5], [45, 52]],
  lastValue: 316.87, priceLabel: "316.87", pillColor: "#a0281c"
});

drawPanel({
  symbol: "QQQ", symbolDx: 11, title: "Invesco QQQ Trust Unit Ser 1",
  change: "2.04", last: "260.43", changeColor: "#5cb000", boxDark: "#2c5a10", boxLight: "#4f9a12", corner: true,
  panelLeft: 720, panelTop: 579, panelWidth: 673, frameLeft: 722, plotLeft: 753.3, plotRight: 1350.3,
  open: qqqOpen, high: qqqHigh, low: qqqLow, close: qqqClose, volume: qqqVolume,
  priceTicks: qqqPriceTicks, priceDomain: [257.5, 260.5], priceRange: [1049.3, 644], priceFormat: d3.format(".2f"),
  volumeDomain: [0, 700], tickBars: qqqTickBars, timeLabels: sessionLabels,
  bodyWidth: 3, green: COL_GREEN, red: COL_RED, shade: [[0, 5], [45, 52]],
  lastValue: 260.43, priceLabel: "260.43", pillColor: "#a0281c"
});
</script>
</body>
</html>
